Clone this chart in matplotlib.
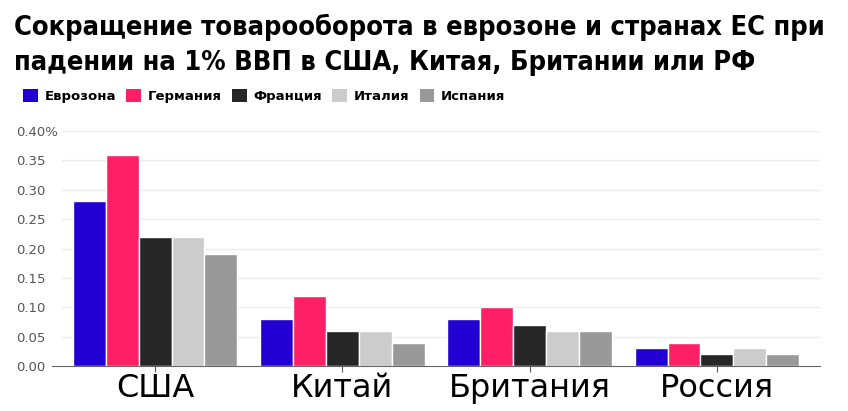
import numpy as np
import matplotlib.pyplot as plt
from matplotlib.patches import Patch

countries = ["США", "Китай", "Британия", "Россия"]
series = ["Еврозона", "Германия", "Франция", "Италия", "Испания"]
eurozone = [0.28, 0.08, 0.08, 0.03]
germany = [0.36, 0.12, 0.10, 0.04]
france = [0.22, 0.06, 0.07, 0.02]
italy = [0.22, 0.06, 0.06, 0.03]
spain = [0.19, 0.04, 0.06, 0.02]
values = [eurozone, germany, france, italy, spain]
colors = ["#2200d4", "#ff1f66", "#262626", "#cccccc", "#999999"]

yticks = [0.0, 0.05, 0.10, 0.15, 0.20, 0.25, 0.30, 0.35, 0.40]
ytick_labels = ["0.00", "0.05", "0.10", "0.15", "0.20", "0.25", "0.30", "0.35", "0.40%"]

fig = plt.figure(figsize=(8.48, 4.11), dpi=100)
ax = fig.add_axes([52 / 848, 45 / 411, 768 / 848, 235 / 411])

x = np.arange(len(countries))
w = 0.176
for i, (vals, c) in enumerate(zip(values, colors)):
    ax.bar(x + (i - 2) * w, vals, width=w, color=c, edgecolor="white",
           linewidth=1, zorder=3)

ax.set_xlim(-0.55, 3.55)
ax.set_ylim(0, 0.40)
ax.set_yticks(yticks)
ax.set_yticklabels(ytick_labels, fontsize=9.5, color="#555555", ha="left")
ax.set_xticks(x)
ax.set_xticklabels(countries, fontsize=23, color="black")
ax.tick_params(axis="x", length=4, color="#555555", pad=1)
ax.tick_params(axis="y", length=0, pad=26)
# gridlines start a bit right of the axis origin, like the source
for yv in yticks[1:]:
    ax.axhline(yv, xmin=10 / 768, xmax=1, color="#ececec", linewidth=1, zorder=0)
for s in ["top", "right", "left"]:
    ax.spines[s].set_visible(False)
ax.spines["bottom"].set_color("#666666")
ax.spines["bottom"].set_zorder(4)

fig.text(14 / 848, 1 - 45 / 411,
         "Сокращение товарооборота в еврозоне и странах ЕС при\nпадении на 1% ВВП в США, Китая, Британии или РФ",
         fontsize=19.5, fontweight="bold", family="DejaVu Sans", stretch="condensed",
         va="center", ha="left", linespacing=1.45)

handles = [Patch(facecolor=c, edgecolor="none") for c in colors]
leg = fig.legend(handles, series, loc="center left", bbox_to_anchor=(18 / 848, 1 - 96 / 411),
                 ncol=5, frameon=False, handlelength=1.1, handleheight=1.1,
                 handletextpad=0.5, columnspacing=0.8, borderaxespad=0,
                 prop={"weight": "bold", "size": 9.5})

fig.savefig("out.png", dpi=100, facecolor="white")
